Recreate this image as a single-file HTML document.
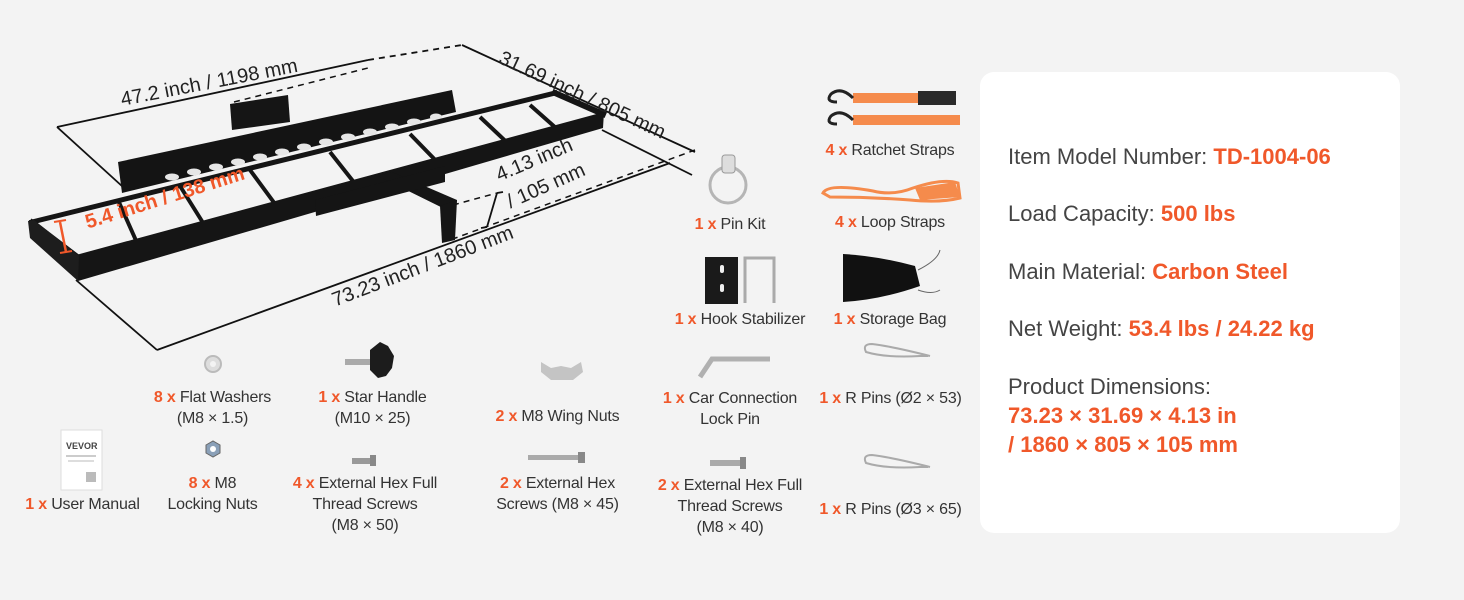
<!DOCTYPE html>
<html><head><meta charset="utf-8"><style>
*{margin:0;padding:0;box-sizing:border-box}
body{width:1464px;height:600px;background:#f3f3f3;font-family:"Liberation Sans",sans-serif;color:#333;position:relative;overflow:hidden}
.t{position:absolute;font-size:16px;line-height:21px;text-align:center;white-space:nowrap;color:#333;letter-spacing:-0.2px}
.o{color:#f0582a;font-weight:bold}
.panel{position:absolute;left:980px;top:72px;width:420px;height:461px;background:#fff;border-radius:14px}
.p{position:absolute;left:28px;font-size:22px;color:#444;white-space:nowrap}
.p b{color:#f0582a}
.r{position:absolute;font-size:20px;line-height:22px;white-space:nowrap;color:#222;transform-origin:left center}
</style></head><body>
<svg width="980" height="600" style="position:absolute;left:0;top:0">
<g stroke="#111" stroke-width="1.8" fill="none">
<line x1="57" y1="127" x2="368" y2="60"/>
<line x1="368" y1="60" x2="462" y2="45" stroke-dasharray="6,5"/>
<line x1="234" y1="102" x2="368" y2="68" stroke-dasharray="6,5" stroke-width="1.5"/>
<line x1="57" y1="127" x2="123" y2="187"/>
<line x1="462" y1="45" x2="695" y2="152"/>
<line x1="602" y1="130" x2="692" y2="175"/>
<line x1="76" y1="280" x2="157" y2="350"/>
<line x1="157" y1="350" x2="670" y2="163"/>
<line x1="695" y1="150" x2="450" y2="240" stroke-dasharray="6,5" stroke-width="1.5"/>
<line x1="453" y1="205" x2="497" y2="193" stroke-dasharray="6,5" stroke-width="1.5"/>
<line x1="487" y1="227" x2="497" y2="193"/>
<line x1="487" y1="227" x2="481" y2="228"/>
<line x1="497" y1="193" x2="503" y2="192"/>
</g>
<!-- back channel -->
<polygon points="118,162 452,90 456,112 122,193" fill="#141414"/>
<g fill="#e6e6e6">
<ellipse cx="172" cy="177" rx="7" ry="3.5"/><ellipse cx="194" cy="172" rx="7" ry="3.5"/><ellipse cx="216" cy="167" rx="7" ry="3.5"/><ellipse cx="238" cy="162" rx="7" ry="3.5"/><ellipse cx="260" cy="157" rx="7" ry="3.5"/><ellipse cx="282" cy="152" rx="7" ry="3.5"/><ellipse cx="304" cy="147" rx="7" ry="3.5"/><ellipse cx="326" cy="142" rx="7" ry="3.5"/><ellipse cx="348" cy="137" rx="7" ry="3.5"/><ellipse cx="370" cy="132" rx="7" ry="3.5"/><ellipse cx="392" cy="127" rx="7" ry="3.5"/><ellipse cx="414" cy="122" rx="7" ry="3.5"/><ellipse cx="436" cy="117" rx="6" ry="3.5"/>
</g>
<polygon points="230,104 288,95 290,122 232,130" fill="#151515"/>
<!-- crossbars -->
<g stroke="#151515" stroke-width="4">
<line x1="118" y1="200" x2="138" y2="245"/>
<line x1="180" y1="186" x2="205" y2="226"/>
<line x1="250" y1="170" x2="278" y2="208"/>
<line x1="330" y1="152" x2="360" y2="190"/>
<line x1="410" y1="134" x2="445" y2="170"/>
<line x1="480" y1="117" x2="515" y2="150"/>
<line x1="530" y1="105" x2="565" y2="136"/>
</g>
<!-- frame -->
<g stroke="#151515" stroke-linecap="square">
<line x1="32" y1="222" x2="555" y2="93" stroke-width="5"/>
<line x1="555" y1="93" x2="603" y2="114" stroke-width="6"/>
<line x1="32" y1="222" x2="78" y2="257" stroke-width="5"/>
</g>
<polygon points="76,255 604,112 603,128 78,281" fill="#151515"/>
<polygon points="28,221 34,220 79,256 78,281 30,238" fill="#1d1d1d"/>
<polygon points="378,176 392,172 457,200 455,214" fill="#151515"/>
<polygon points="315,200 445,166 445,182 316,216" fill="#151515"/>
<polygon points="440,206 457,200 455,240 442,243" fill="#151515"/>
<line x1="60" y1="222" x2="66" y2="252" stroke="#f0582a" stroke-width="2.5"/>
<line x1="54" y1="222" x2="66" y2="220" stroke="#f0582a" stroke-width="2"/>
<line x1="60" y1="253" x2="72" y2="251" stroke="#f0582a" stroke-width="2"/>
<!-- items -->
<circle cx="213" cy="364" r="8" fill="#ddd" stroke="#bbb" stroke-width="2"/><circle cx="213" cy="364" r="3" fill="#f3f3f3"/>
<polygon points="206,445 213,441 220,445 220,453 213,457 206,453" fill="#8aa0b8" stroke="#666"/><circle cx="213" cy="449" r="3" fill="#fff"/>
<rect x="345" y="359" width="25" height="6" fill="#aaa"/>
<path d="M370 350 l10 -8 l8 4 l6 10 l-2 12 l-6 8 l-8 2 l-8 -8z" fill="#1c1c1c"/>
<path d="M541 362 l10 6 l10 -2 l10 2 l10 -6 l2 10 l-10 8 l-22 0 l-10 -8z" fill="#c4c4c4"/>
<rect x="352" y="458" width="20" height="6" fill="#999"/><rect x="370" y="455" width="6" height="11" fill="#888"/>
<rect x="528" y="455" width="50" height="5" fill="#aaa"/><rect x="578" y="452" width="7" height="11" fill="#888"/>
<rect x="710" y="460" width="30" height="6" fill="#aaa"/><rect x="740" y="457" width="6" height="12" fill="#888"/>
<circle cx="728" cy="185" r="18" fill="none" stroke="#b5b5b5" stroke-width="3"/><rect x="722" y="155" width="13" height="18" rx="3" fill="#ddd" stroke="#999"/>
<rect x="705" y="257" width="33" height="47" fill="#1a1a1a"/><rect x="720" y="265" width="4" height="8" rx="2" fill="#eee"/><rect x="720" y="284" width="4" height="8" rx="2" fill="#eee"/>
<path d="M745 303 v-45 h29 v45" fill="none" stroke="#aaa" stroke-width="3"/>
<path d="M700 377 l12 -18 h58" fill="none" stroke="#b0b0b0" stroke-width="5"/>
<path d="M843 254 q35 2 72 12 l5 20 q-40 14 -77 16z" fill="#111"/>
<path d="M918 270 q20 -10 22 -20 M918 290 q14 5 22 0" stroke="#666" fill="none"/>
<rect x="853" y="93" width="70" height="10" fill="#f58b4c"/><rect x="853" y="115" width="107" height="10" fill="#f58b4c"/>
<rect x="918" y="91" width="38" height="14" fill="#2a2a2a"/>
<path d="M853 98 q-12 -12 -22 -4 q-6 8 6 8 M853 120 q-12 -12 -22 -4 q-6 8 6 8" stroke="#222" stroke-width="3" fill="none"/>
<path d="M823 193 q5 -10 50 -2 q20 5 40 -3 q30 -10 45 -5 l2 15 q-20 5 -50 2 q-40 -3 -80 -3z" fill="none" stroke="#f58b4c" stroke-width="3"/>
<path d="M915 188 l40 -6 l5 15 l-40 3z" fill="#f58b4c"/>
<path d="M930 356 q-40 -10 -58 -12 q-10 0 -6 8 q20 6 54 4 h8" stroke="#aaa" stroke-width="2" fill="none"/>
<path d="M930 467 q-40 -10 -58 -12 q-10 0 -6 8 q20 6 54 4 h8" stroke="#aaa" stroke-width="2" fill="none"/>
<rect x="61" y="430" width="41" height="60" fill="#fff" stroke="#ddd"/>
<text x="66" y="449" font-size="9" font-weight="bold" fill="#444" font-family="Liberation Sans">VEVOR</text>
<rect x="66" y="455" width="30" height="2" fill="#ccc"/><rect x="68" y="460" width="26" height="2" fill="#ddd"/><rect x="86" y="472" width="10" height="10" fill="#bbb"/>
</svg>
<div class="r" style="left:121px;top:89px;transform:rotate(-11deg)">47.2 inch / 1198 mm</div>
<div class="r" style="left:500px;top:46px;transform:rotate(25deg)">31.69 inch / 805 mm</div>
<div class="r" style="left:333px;top:290px;transform:rotate(-21deg)">73.23 inch / 1860 mm</div>
<div class="r" style="left:497px;top:165px;transform:rotate(-23deg)">4.13 inch</div>
<div class="r" style="left:508px;top:192px;transform:rotate(-24deg)">/ 105 mm</div>
<div class="r" style="left:86px;top:212px;transform:rotate(-17.5deg);color:#f0582a;font-weight:bold">5.4 inch / 138 mm</div>

<div class="t" style="left:140px;top:387px;width:145px"><span class="o">8 x</span> Flat Washers<br>(M8 × 1.5)</div>
<div class="t" style="left:300px;top:387px;width:145px"><span class="o">1 x</span> Star Handle<br>(M10 × 25)</div>
<div class="t" style="left:480px;top:406px;width:155px"><span class="o">2 x</span> M8 Wing Nuts</div>
<div class="t" style="left:10px;top:494px;width:145px"><span class="o">1 x</span> User Manual</div>
<div class="t" style="left:140px;top:473px;width:145px"><span class="o">8 x</span> M8<br>Locking Nuts</div>
<div class="t" style="left:280px;top:473px;width:170px"><span class="o">4 x</span> External Hex Full<br>Thread Screws<br>(M8 × 50)</div>
<div class="t" style="left:480px;top:473px;width:155px"><span class="o">2 x</span> External Hex<br>Screws (M8 × 45)</div>
<div class="t" style="left:645px;top:475px;width:170px"><span class="o">2 x</span> External Hex Full<br>Thread Screws<br>(M8 × 40)</div>
<div class="t" style="left:670px;top:214px;width:120px"><span class="o">1 x</span> Pin Kit</div>
<div class="t" style="left:660px;top:309px;width:160px"><span class="o">1 x</span> Hook Stabilizer</div>
<div class="t" style="left:650px;top:388px;width:160px"><span class="o">1 x</span> Car Connection<br>Lock Pin</div>
<div class="t" style="left:810px;top:140px;width:160px"><span class="o">4 x</span> Ratchet Straps</div>
<div class="t" style="left:810px;top:212px;width:160px"><span class="o">4 x</span> Loop Straps</div>
<div class="t" style="left:810px;top:309px;width:160px"><span class="o">1 x</span> Storage Bag</div>
<div class="t" style="left:808px;top:388px;width:165px"><span class="o">1 x</span> R Pins (Ø2 × 53)</div>
<div class="t" style="left:808px;top:499px;width:165px"><span class="o">1 x</span> R Pins (Ø3 × 65)</div>

<div class="panel">
<div class="p" style="top:72px">Item Model Number: <b>TD-1004-06</b></div>
<div class="p" style="top:129px">Load Capacity: <b>500 lbs</b></div>
<div class="p" style="top:187px">Main Material: <b>Carbon Steel</b></div>
<div class="p" style="top:244px">Net Weight: <b>53.4 lbs / 24.22 kg</b></div>
<div class="p" style="top:302px">Product Dimensions:</div>
<div class="p" style="top:331px"><b>73.23 × 31.69 × 4.13 in</b></div>
<div class="p" style="top:360px"><b>/ 1860 × 805 × 105 mm</b></div>
</div>
</body></html>
